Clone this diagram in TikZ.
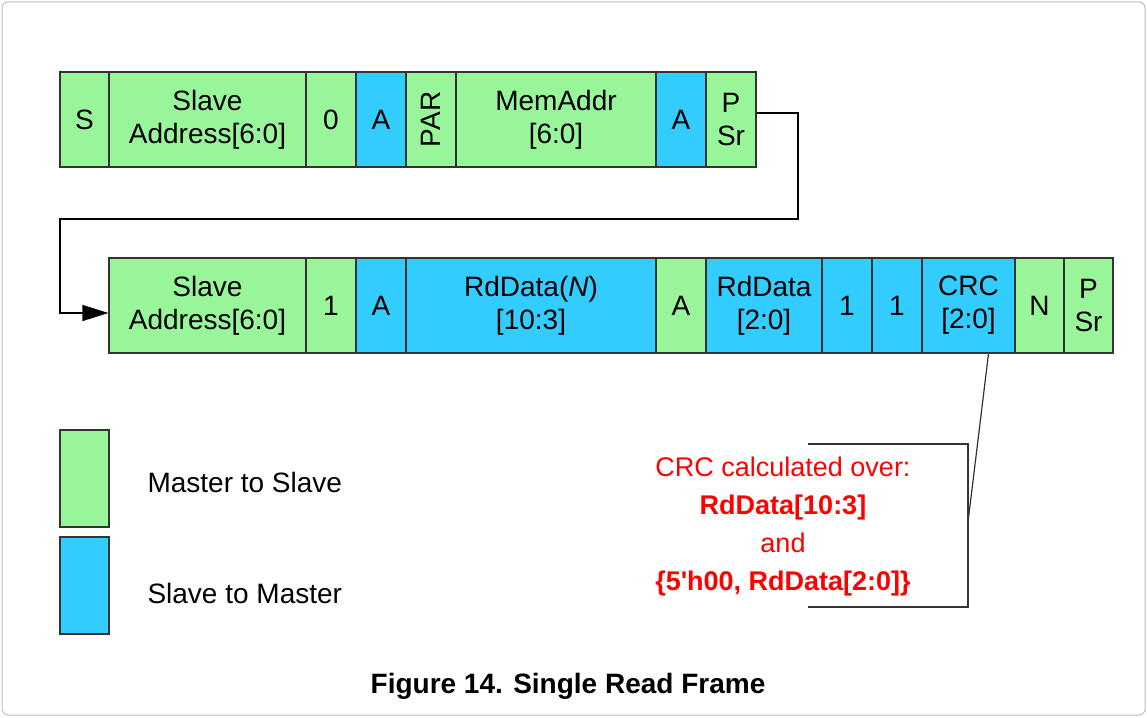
\documentclass[tikz,border=0pt]{standalone}
\usepackage{fontspec}
\setmainfont{Liberation Sans}
\usetikzlibrary{arrows.meta}
\definecolor{msgreen}{HTML}{99F599}
\definecolor{smblue}{HTML}{33CCFF}
\tikzset{
  cell/.style={draw=black!80, line width=1.2pt, inner sep=0pt, align=center,
    font=\fontsize{28}{33}\selectfont, minimum height=95pt},
  ms/.style={cell, fill=msgreen},
  sm/.style={cell, fill=smblue},
  note/.style={text=red, align=center, font=\fontsize{27}{38}\selectfont},
}
\newcommand{\cellat}[5]{% name, style, left, right, text ; y centre set by \rowy
  \node[#2, minimum width=#4pt-#3pt] (#1) at ({(#3+#4)/2*1pt}, \rowy) {#5};}
\begin{document}
\begin{tikzpicture}[x=1pt,y=-1pt]
  \useasboundingbox (0,0) rectangle (1147,717);
  \draw[black!25, line width=1pt, rounded corners=6pt] (2,2) rectangle (1145,715);

  % first frame
  \def\rowy{-119.5pt}
  \cellat{s}{ms}{60}{109}{S}
  \cellat{addra}{ms}{109}{306}{Slave\\Address[6:0]}
  \cellat{rw}{ms}{306}{356}{0}
  \cellat{acka}{sm}{356}{406}{A}
  \cellat{par}{ms}{406}{456}{\rotatebox{90}{PAR}}
  \cellat{mem}{ms}{456}{656}{MemAddr\\{}[6:0]}
  \cellat{ackb}{sm}{656}{706}{A}
  \cellat{psra}{ms}{706}{756}{P\\Sr}

  % second frame
  \def\rowy{-305.5pt}
  \cellat{addrb}{ms}{109}{306}{Slave\\Address[6:0]}
  \cellat{rd}{ms}{306}{356}{1}
  \cellat{ackc}{sm}{356}{406}{A}
  \cellat{datah}{sm}{406}{656}{RdData(\textit{N})\\{}[10:3]}
  \cellat{ackd}{ms}{656}{706}{A}
  \cellat{datal}{sm}{706}{822}{RdData\\{}[2:0]}
  \cellat{onea}{sm}{822}{872}{1}
  \cellat{oneb}{sm}{872}{922}{1}
  \cellat{crc}{sm}{922}{1015}{CRC\\{}[2:0]}
  \cellat{nack}{ms}{1015}{1064}{N}
  \cellat{psrb}{ms}{1064}{1113}{P\\Sr}

  % wrap-around connector
  \draw[line width=1.2pt, -{Triangle[length=26pt,width=16pt]}]
    (psra.east |- 0,113) -- (798,113) -- (798,219) -- (60,219) -- (60,313) -- (addrb.west |- 0,313);

  % legend
  \node[ms, minimum width=49pt, minimum height=97pt] (keyms) at (84.5,478.5) {};
  \node[sm, minimum width=49pt, minimum height=97pt] (keysm) at (84.5,585.5) {};
  \node[anchor=west, font=\fontsize{28}{33}\selectfont] (keymst) at (144,482) {Master to Slave};
  \node[anchor=west, font=\fontsize{28}{33}\selectfont] (keysmt) at (144,593) {Slave to Master};

  % crc note
  \node[note] (crcnote) at (783,527) {CRC calculated over:\\\textbf{RdData[10:3]}\\and\\\textbf{\{5\textquotesingle h00, RdData[2:0]\}}};
  \coordinate (brt) at (968,444);
  \coordinate (brb) at (968,607);
  \draw[line width=1.2pt, black!80] (808,444) -- (brt) -- (brb) -- (808,607);
  \draw[line width=1.2pt, black!80] (crc.south) ++(20pt,0) -- (968,522);

  % caption
  \node[font=\bfseries\fontsize{28}{33}\selectfont] (caption) at (568,686) {Figure 14. Single Read Frame};
\end{tikzpicture}
\end{document}
